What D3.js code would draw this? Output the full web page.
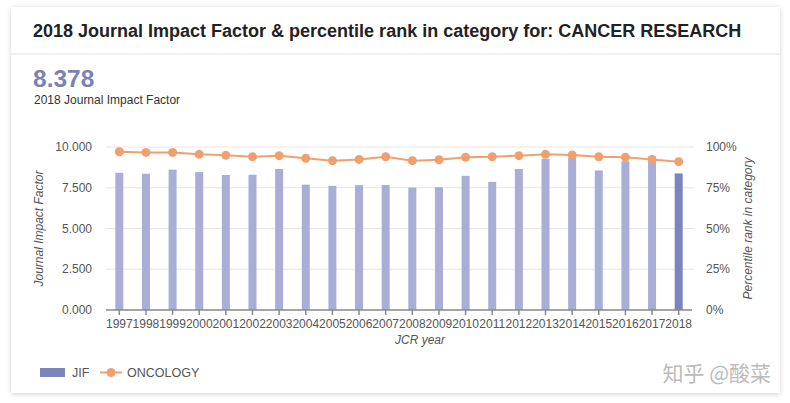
<!DOCTYPE html>
<html>
<head>
<meta charset="utf-8">
<script src="https://cdn.jsdelivr.net/npm/d3@7"></script>
<style>
    body { margin: 0; background: #fff; font-family: "Liberation Sans", Arial, sans-serif; }
    #chart { width: 790px; height: 403px; }
</style>
</head>
<body>
<div id="chart"></div>
<script>
const years = ['1997','1998','1999','2000','2001','2002','2003','2004','2005','2006','2007',
    '2008','2009','2010','2011','2012','2013','2014','2015','2016','2017','2018'];
const jif = [8.42, 8.36, 8.61, 8.46, 8.28, 8.30, 8.65, 7.69, 7.62, 7.66, 7.67,
    7.51, 7.54, 8.23, 7.86, 8.65, 9.28, 9.33, 8.56, 9.12, 9.13, 8.378];
const percentile = [97.1, 96.7, 96.7, 95.5, 94.9, 94.0, 94.7, 93.1, 91.6, 92.4, 94.0,
    91.6, 92.2, 93.7, 94.0, 94.7, 95.5, 95.1, 94.0, 93.7, 92.4, 91.0];
const jifTicks = [0, 2.5, 5, 7.5, 10];
const pctTicks = [0, 25, 50, 75, 100];

const W = 790, H = 403;
const margin = { left: 106, right: 98, top: 147, bottom: 93 };

const svg = d3.select('#chart').append('svg')
    .attr('width', W).attr('height', H);

// card with soft shadow
const defs = svg.append('defs');
const f = defs.append('filter').attr('id', 'shadow').attr('x', -0.05).attr('y', -0.05).attr('width', 1.1).attr('height', 1.1);
f.append('feDropShadow').attr('dx', 0).attr('dy', 1).attr('stdDeviation', 2.5).attr('flood-color', '#000').attr('flood-opacity', 0.18);

svg.append('rect')
    .attr('x', 11).attr('y', 7).attr('width', 769).attr('height', 386)
    .attr('fill', '#fff').attr('filter', 'url(#shadow)');

svg.append('text')
    .attr('x', 33).attr('y', 37)
    .attr('font-size', 18).attr('font-weight', 'bold').attr('fill', '#222')
    .text('2018 Journal Impact Factor & percentile rank in category for: CANCER RESEARCH');

svg.append('line')
    .attr('x1', 11).attr('x2', 780).attr('y1', 54).attr('y2', 54)
    .attr('stroke', '#e3e3e3');

svg.append('text')
    .attr('x', 33).attr('y', 87)
    .attr('font-size', 24.5).attr('font-weight', 'bold').attr('fill', '#7b83b3')
    .text('8.378');

svg.append('text')
    .attr('x', 34).attr('y', 104)
    .attr('font-size', 12).attr('fill', '#333')
    .text('2018 Journal Impact Factor');

const x = d3.scaleBand().domain(years)
    .range([margin.left, W - margin.right]);
const yL = d3.scaleLinear().domain([0, 10]).range([H - margin.bottom, margin.top]);
const yR = d3.scaleLinear().domain([0, 100]).range([H - margin.bottom, margin.top]);

// gridlines
svg.append('g')
    .selectAll('line')
    .data(jifTicks.slice(1))
    .join('line')
    .attr('x1', margin.left).attr('x2', W - margin.right + 2)
    .attr('y1', d => yL(d)).attr('y2', d => yL(d))
    .attr('stroke', '#e6e6e6');

// left axis labels
svg.append('g')
    .selectAll('text')
    .data(jifTicks)
    .join('text')
    .attr('x', 92).attr('y', d => yL(d) + 4)
    .attr('text-anchor', 'end')
    .attr('font-size', 12).attr('fill', '#555')
    .text(d => d.toFixed(3));

// right axis labels
svg.append('g')
    .selectAll('text')
    .data(pctTicks)
    .join('text')
    .attr('x', 706).attr('y', d => yR(d) + 4)
    .attr('font-size', 12).attr('fill', '#555')
    .text(d => d + '%');

// bars
svg.append('g')
    .selectAll('rect')
    .data(jif)
    .join('rect')
    .attr('x', (d, i) => x(years[i]) + x.bandwidth() / 2 - 4)
    .attr('width', 8)
    .attr('y', d => yL(d))
    .attr('height', d => yL(0) - yL(d))
    .attr('fill', (d, i) => i === years.length - 1 ? '#7b84bd' : '#a8aed6');

// x axis
const xAxis = svg.append('g');
xAxis.append('line')
    .attr('x1', margin.left).attr('x2', W - margin.right)
    .attr('y1', yL(0)).attr('y2', yL(0))
    .attr('stroke', '#888').attr('stroke-width', 1.5);
xAxis.selectAll('line.tick')
    .data(years)
    .join('line')
    .attr('class', 'tick')
    .attr('x1', d => x(d) + x.bandwidth() / 2).attr('x2', d => x(d) + x.bandwidth() / 2)
    .attr('y1', yL(0)).attr('y2', yL(0) + 5)
    .attr('stroke', '#888').attr('stroke-width', 1.5);
xAxis.selectAll('text')
    .data(years)
    .join('text')
    .attr('x', d => x(d) + x.bandwidth() / 2)
    .attr('y', yL(0) + 18)
    .attr('text-anchor', 'middle')
    .attr('font-size', 12).attr('fill', '#555')
    .text(d => d);

svg.append('text')
    .attr('x', 420).attr('y', 344)
    .attr('text-anchor', 'middle')
    .attr('font-size', 12).attr('font-style', 'italic').attr('fill', '#555')
    .text('JCR year');

svg.append('text')
    .attr('transform', `translate(43, ${(yL(0) + yL(10)) / 2}) rotate(-90)`)
    .attr('text-anchor', 'middle')
    .attr('font-size', 12).attr('font-style', 'italic').attr('fill', '#555')
    .text('Journal Impact Factor');

svg.append('text')
    .attr('transform', `translate(752, ${(yL(0) + yL(10)) / 2}) rotate(-90)`)
    .attr('text-anchor', 'middle')
    .attr('font-size', 12).attr('font-style', 'italic').attr('fill', '#555')
    .text('Percentile rank in category');

// percentile line
const line = d3.line()
    .x((d, i) => x(years[i]) + x.bandwidth() / 2)
    .y(d => yR(d));

svg.append('path')
    .datum(percentile)
    .attr('d', line)
    .attr('fill', 'none')
    .attr('stroke', '#f0a06e')
    .attr('stroke-width', 2);

svg.append('g')
    .selectAll('circle')
    .data(percentile)
    .join('circle')
    .attr('cx', (d, i) => x(years[i]) + x.bandwidth() / 2)
    .attr('cy', d => yR(d))
    .attr('r', 4.5)
    .attr('fill', '#f0a06e');

// legend
const legend = svg.append('g');
legend.append('rect')
    .attr('x', 40).attr('y', 368).attr('width', 25).attr('height', 9)
    .attr('fill', '#7b84bd');
legend.append('text')
    .attr('x', 72).attr('y', 377)
    .attr('font-size', 12.5).attr('fill', '#555')
    .text('JIF');
legend.append('line')
    .attr('x1', 100).attr('x2', 122).attr('y1', 372.5).attr('y2', 372.5)
    .attr('stroke', '#f0a06e').attr('stroke-width', 2);
legend.append('circle')
    .attr('cx', 111).attr('cy', 372.5).attr('r', 4.5)
    .attr('fill', '#f0a06e');
legend.append('text')
    .attr('x', 127).attr('y', 377)
    .attr('font-size', 12.5).attr('fill', '#555')
    .text('ONCOLOGY');

// watermark
svg.append('text')
    .attr('x', 771).attr('y', 381)
    .attr('text-anchor', 'end')
    .attr('font-family', '"Noto Sans CJK SC", sans-serif')
    .attr('font-size', 21).attr('fill', '#bbb')
    .text('知乎 @酸菜');
</script>
</body>
</html>
